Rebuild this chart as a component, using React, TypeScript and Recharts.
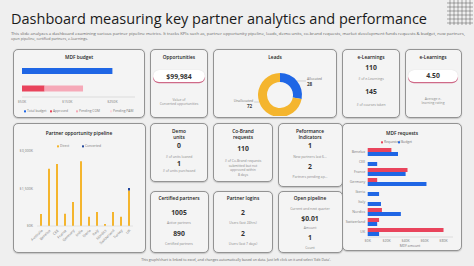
import React from 'react';
import { BarChart, Bar, XAxis, YAxis, PieChart, Pie, Cell } from 'recharts';

const FONT = '"Open Sans", "DejaVu Sans", sans-serif';
const BLUE = '#1f66e5';
const RED = '#e9445c';
const PINK = '#f6a9b8';
const PALE = '#fbd6de';
const YELLOW = '#f4b52e';
const NAVY = '#23479c';

// MDF budget (values in $K)
const budgetRows = ['Budget', 'Requests'];
const totalBudget = [250, 0];
const approved = [0, 100];
const pendingCom = [0, 85];
const pendingPam = [0, 0];

// Leads
const leadNames = ['Allocated', 'Unallocated'];
const leadValues = [28, 72];
const leadColors = [BLUE, YELLOW];

// Partner opportunity pipeline (values in $K)
const regions = ['Australia', 'Benelux', 'CEE', 'France', 'Germany', 'India', 'Iberia', 'Italy', 'Nordics', 'Switzerland', 'Turkey', 'UK'];
const direct = [480, 2290, 2480, 490, 960, 2590, 370, 560, 80, 560, 370, 1420];
const converted = [0, 0, 0, 0, 0, 0, 0, 0, 0, 0, 0, 100];

// MDF requests (values in $K)
const mdfRegions = ['Benelux', 'CEE', 'France', 'Germany', 'Iberia', 'Italy', 'Nordics', 'Switzerland', 'UK'];
const requested = [25, 0, 42, 10, 0, 0, 15, 12, 80];
const mdfBudget = [32, 10, 40, 62, 12, 14, 35, 10, 12];

const budgetData = budgetRows.map((row, i) => ({
  row,
  total: totalBudget[i],
  approved: approved[i],
  pendingCom: pendingCom[i],
  pendingPam: pendingPam[i],
}));
const leadData = leadNames.map((name, i) => ({ name, value: leadValues[i] }));
const pipelineData = regions.map((region, i) => ({ region, direct: direct[i], converted: converted[i] }));
const mdfData = mdfRegions.map((region, i) => ({ region, requested: requested[i], budget: mdfBudget[i] }));

const tickStyle = { fontSize: 3.6, fill: '#7a7a7a', fontFamily: FONT };

function T({ x, y, size = 3.4, weight = 400, color = '#8a8a8a', children }: any) {
  return (
    <div
      style={{
        position: 'absolute',
        left: x,
        top: y,
        transform: 'translate(-50%, -50%)',
        fontSize: size,
        fontWeight: weight,
        color,
        whiteSpace: 'nowrap',
        lineHeight: 1,
        fontFamily: FONT,
      }}
    >
      {children}
    </div>
  );
}

const Title = (p: any) => <T size={4.8} weight={600} color="#222" {...p} />;
const Big = (p: any) => <T size={6.8} weight={700} color="#333" {...p} />;

function Panel({ x, y, w, h }: any) {
  return (
    <div
      style={{
        position: 'absolute',
        left: x,
        top: y,
        width: w,
        height: h,
        boxSizing: 'border-box',
        border: '0.8px solid #939393',
        borderRadius: 5,
        background: '#f4f4f4',
        boxShadow: '0 0.6px 1.2px rgba(0,0,0,0.18)',
      }}
    />
  );
}

function Pill({ x, y, w, h, children }: any) {
  return (
    <div
      style={{
        position: 'absolute',
        left: x,
        top: y,
        width: w,
        height: h,
        borderRadius: h / 2,
        background: '#ffffff',
        boxShadow: '0 1.3px 0 #cf6a88, 0 0 1px rgba(0,0,0,0.15)',
        display: 'flex',
        alignItems: 'center',
        justifyContent: 'center',
        fontSize: 6.8,
        fontWeight: 700,
        color: '#333',
        fontFamily: FONT,
      }}
    >
      {children}
    </div>
  );
}

function LegendItem({ x, y, color, label }: any) {
  return (
    <div
      style={{
        position: 'absolute',
        left: x,
        top: y,
        transform: 'translateY(-50%)',
        display: 'flex',
        alignItems: 'center',
        fontSize: 3.3,
        color: '#777',
        whiteSpace: 'nowrap',
        fontFamily: FONT,
        lineHeight: 1,
      }}
    >
      <span style={{ width: 1.8, height: 1.8, background: color, marginRight: 1.2, display: 'inline-block' }} />
      {label}
    </div>
  );
}

const RAD = Math.PI / 180;
const renderLeadLabel = (props: any) => {
  const { cx, cy, midAngle, outerRadius, name, value } = props;
  const right = Math.cos(midAngle * RAD) >= 0;
  // Excel pulls the large slice's label toward the horizontal
  const a = right ? midAngle : -180 + (midAngle + 180) * 0.47;
  const sx = cx + outerRadius * Math.cos(-a * RAD);
  const sy = cy + outerRadius * Math.sin(-a * RAD);
  const ex = sx + (right ? 9 : -5);
  const tx = ex + (right ? 1 : -1);
  return (
    <g>
      <polyline points={`${sx},${sy} ${ex},${sy}`} stroke="#9a9a9a" strokeWidth={0.4} fill="none" />
      <text x={tx} y={sy - 0.5} textAnchor={right ? 'start' : 'end'} fontSize={3.5} fill="#777" fontFamily={FONT}>
        {name}
      </text>
      <text x={right ? tx : tx - 1} y={sy + 5.5} textAnchor={right ? 'start' : 'end'} fontSize={4.6} fontWeight={700} fill="#444" fontFamily={FONT}>
        {value}
      </text>
    </g>
  );
};

const gridXs = [450, 454, 458, 462, 466, 470];
const gridYs = [3, 7, 11, 15, 19, 23];

export default function App() {
  return (
    <div
      style={{
        position: 'absolute',
        left: 0,
        top: 0,
        width: 474,
        height: 266,
        background: '#efefef',
        overflow: 'hidden',
        fontFamily: FONT,
      }}
    >
      <svg width={474} height={45} style={{ position: 'absolute', left: 0, top: 0 }}>
        <text x={11} y={24} fontSize={15} fill="#1a1a1a" fontFamily={FONT} textLength={416} lengthAdjust="spacingAndGlyphs">
          Dashboard measuring key partner analytics and performance
        </text>
        <text x={11} y={34.5} fontSize={3.7} fill="#666" fontFamily={FONT} textLength={454} lengthAdjust="spacingAndGlyphs">
          This slide analyzes a dashboard examining various partner pipeline metrics. It tracks KPIs such as, partner opportunity pipeline, leads, demo units, co-brand requests, market development funds requests &amp; budget, new partners,
        </text>
        <text x={11} y={39.5} fontSize={3.7} fill="#666" fontFamily={FONT}>
          open pipeline, certified partners, e-learnings.
        </text>
        {gridXs.map((x) => (
          <line key={`gx${x}`} x1={x} y1={0} x2={x} y2={25} stroke="#555" strokeWidth={0.5} />
        ))}
        {gridYs.map((y) => (
          <line key={`gy${y}`} x1={447} y1={y} x2={473} y2={y} stroke="#555" strokeWidth={0.5} />
        ))}
      </svg>

      {/* panels */}
      <Panel x={13} y={49} w={132} h={69} />
      <Panel x={150} y={49} w={58} h={69} />
      <Panel x={213} y={49} w={124} h={69} />
      <Panel x={342} y={49} w={58} h={69} />
      <Panel x={405} y={49} w={57} h={69} />
      <Panel x={13} y={123} w={133} h={130} />
      <Panel x={150} y={123} w={58} h={59} />
      <Panel x={213} y={123} w={60} h={59} />
      <Panel x={278} y={123} w={65} h={64} />
      <Panel x={342} y={123} w={120} h={128} />
      <Panel x={150} y={191} w={59} h={62} />
      <Panel x={213} y={191} w={60} h={62} />
      <Panel x={278} y={191} w={65} h={62} />

      {/* MDF budget */}
      <Title x={79} y={57}>MDF budget</Title>
      <div style={{ position: 'absolute', left: 13, top: 60 }}>
        <BarChart layout="vertical" width={132} height={46} data={budgetData} margin={{ top: 2, right: 10, left: 9, bottom: 0 }} barCategoryGap={0}>
          <XAxis
            type="number"
            domain={[50, 300]}
            ticks={[50, 150, 250]}
            allowDataOverflow
            tickFormatter={(v: number) => `$${v}K`}
            tick={tickStyle}
            axisLine={{ stroke: '#cfcfcf', strokeWidth: 0.6 }}
            tickLine={false}
            tickSize={2}
            tickMargin={1}
            height={9}
          />
          <YAxis type="category" dataKey="row" hide />
          <Bar dataKey="total" stackId="b" fill={BLUE} barSize={6} isAnimationActive={false} />
          <Bar dataKey="approved" stackId="b" fill={RED} barSize={6} isAnimationActive={false} />
          <Bar dataKey="pendingCom" stackId="b" fill={PINK} barSize={6} isAnimationActive={false} />
          <Bar dataKey="pendingPam" stackId="b" fill={PALE} barSize={6} isAnimationActive={false} />
        </BarChart>
      </div>
      <LegendItem x={24} y={111} color={BLUE} label="Total budget" />
      <LegendItem x={50} y={111} color={RED} label="Approved" />
      <LegendItem x={76} y={111} color={PINK} label="Pending COM" />
      <LegendItem x={110} y={111} color={PALE} label="Pending PAM" />

      {/* Opportunities */}
      <Title x={179} y={57}>Opportunities</Title>
      <Pill x={153} y={70} w={52} h={12}>$99,984</Pill>
      <T x={179} y={99.5}>Value of</T>
      <T x={179} y={103.5}>Converted opportunities</T>

      {/* Leads */}
      <Title x={275} y={57}>Leads</Title>
      <div style={{ position: 'absolute', left: 213, top: 60 }}>
        <PieChart width={124} height={56}>
          <Pie
            data={leadData}
            dataKey="value"
            nameKey="name"
            cx={62}
            cy={30}
            innerRadius={13}
            outerRadius={22}
            startAngle={90}
            endAngle={-270}
            stroke="none"
            label={renderLeadLabel}
            labelLine={false}
            isAnimationActive={false}
          >
            {leadData.map((d, i) => (
              <Cell key={d.name} fill={leadColors[i]} />
            ))}
          </Pie>
        </PieChart>
      </div>

      {/* e-Learnings */}
      <Title x={371} y={57}>e-Learnings</Title>
      <Big x={371} y={68}>110</Big>
      <T x={371} y={79}># of e-Learnings</T>
      <Big x={371} y={92}>145</Big>
      <T x={371} y={105}># of courses taken</T>

      <Title x={433} y={57}>e-Learnings</Title>
      <Pill x={408} y={69.5} w={50} h={12}>4.50</Pill>
      <T x={433} y={98.5}>Average e-</T>
      <T x={433} y={102.5}>learning rating</T>

      {/* Partner opportunity pipeline */}
      <Title x={79} y={133}>Partner opportunity pipeline</Title>
      <LegendItem x={57} y={146} color={YELLOW} label="Direct" />
      <LegendItem x={82} y={146} color={NAVY} label="Converted" />
      <div style={{ position: 'absolute', left: 13, top: 140 }}>
        <BarChart width={133} height={105} data={pipelineData} margin={{ top: 11, right: 13, left: 0, bottom: 0 }}>
          <XAxis
            dataKey="region"
            interval={0}
            angle={-45}
            textAnchor="end"
            tick={tickStyle}
            tickLine={false}
            tickSize={2}
            tickMargin={1}
            axisLine={{ stroke: '#d6d6d6', strokeWidth: 0.6 }}
            height={19}
          />
          <YAxis
            domain={[0, 3000]}
            ticks={[0, 1500, 3000]}
            tickFormatter={(v: number) => `$${v.toLocaleString('en-US')}K`}
            tick={tickStyle}
            axisLine={false}
            tickLine={false}
            tickSize={2}
            tickMargin={2}
            width={24}
          />
          <Bar dataKey="direct" stackId="p" fill={YELLOW} barSize={2} isAnimationActive={false} />
          <Bar dataKey="converted" stackId="p" fill={NAVY} barSize={2} isAnimationActive={false} />
        </BarChart>
      </div>

      {/* Demo units */}
      <Title x={179} y={130.5}>Demo</Title>
      <Title x={179} y={136.5}>units</Title>
      <Big x={179} y={145.5}>0</Big>
      <T x={179} y={157}># of units loaned</T>
      <Big x={179} y={164}>1</Big>
      <T x={179} y={171}># of units purchased</T>

      {/* Co-Brand requests */}
      <Title x={243} y={130.5}>Co-Brand</Title>
      <Title x={243} y={136.5}>requests</Title>
      <Big x={243} y={149}>110</Big>
      <T x={243} y={161}># of Co-Brand requests</T>
      <T x={243} y={165.5}>submitted but not</T>
      <T x={243} y={170}>approved within</T>
      <T x={243} y={174.5}>8 days</T>

      {/* Performance indicators */}
      <Title x={310} y={130.5}>Peformance</Title>
      <Title x={310} y={136.5}>Indicators</Title>
      <Big x={310} y={145.5}>1</Big>
      <T x={310} y={157}>New partners last 6...</T>
      <Big x={310} y={167}>2</Big>
      <T x={310} y={177}>Partners pending ap...</T>

      {/* Certified partners */}
      <Title x={179} y={198}>Certified partners</Title>
      <Big x={179} y={212.5}>1005</Big>
      <T x={179} y={223}>Active partners</T>
      <Big x={179} y={233.5}>890</Big>
      <T x={179} y={244}>Certified partners</T>

      {/* Partner logins */}
      <Title x={243} y={198}>Partner logins</Title>
      <Big x={243} y={212.5}>2</Big>
      <T x={243} y={223}>Users (last 24hrs)</T>
      <Big x={243} y={233.5}>2</Big>
      <T x={243} y={244}>Users (last 7 days)</T>

      {/* Open pipeline */}
      <Title x={310} y={198}>Open pipeline</Title>
      <T x={310} y={208.5}>Current and next quarter</T>
      <Big x={310} y={219}>$0.01</Big>
      <T x={310} y={228}>Amount</T>
      <Big x={310} y={238}>1</Big>
      <T x={310} y={248}>Count</T>

      {/* MDF requests */}
      <Title x={402} y={133}>MDF requests</Title>
      <LegendItem x={381} y={142} color={RED} label="Requested" />
      <LegendItem x={398} y={142} color={BLUE} label="Budget" />
      <div style={{ position: 'absolute', left: 342, top: 145 }}>
        <BarChart layout="vertical" width={120} height={104} data={mdfData} margin={{ top: 2, right: 9, left: 0, bottom: 0 }} barGap={0} barCategoryGap={1}>
          <XAxis
            type="number"
            domain={[0, 90]}
            ticks={[0, 20, 40, 60, 80]}
            tickFormatter={(v: number) => `$${v}K`}
            tick={tickStyle}
            axisLine={{ stroke: '#cfcfcf', strokeWidth: 0.6 }}
            tickLine={false}
            tickSize={1}
            tickMargin={1}
            height={12}
          />
          <YAxis
            type="category"
            dataKey="region"
            tick={tickStyle}
            axisLine={false}
            tickLine={false}
            tickSize={1}
            tickMargin={1.5}
            width={25.7}
          />
          <Bar dataKey="requested" fill={RED} barSize={4} isAnimationActive={false} />
          <Bar dataKey="budget" fill={BLUE} barSize={4} isAnimationActive={false} />
        </BarChart>
      </div>
      <T x={410} y={246} size={3.4} color="#777">MDF amount</T>

      {/* footer */}
      <T x={236} y={259.5} size={3.5} color="#666">
        This graph/chart is linked to excel, and changes automatically based on data. Just left click on it and select 'Edit Data'.
      </T>
    </div>
  );
}
